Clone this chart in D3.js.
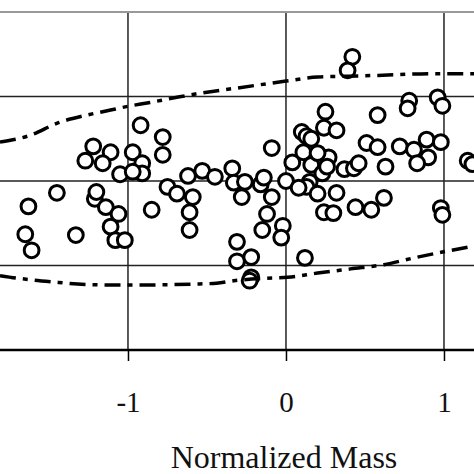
<!DOCTYPE html>
<html>
<head>
<meta charset="utf-8">
<script src="https://cdn.jsdelivr.net/npm/d3@7"></script>
<style>
  html, body { margin: 0; padding: 0; background: #fff; }
  svg { display: block; }
</style>
</head>
<body>
<svg id="chart" width="474" height="474"></svg>
<script>
const width = 474;
const height = 474;

// Scatter points: normalized mass (x) vs normalized value (y)
const pointsX = [
  -1.63, -1.45, -1.65, -1.61, -1.33, -1.21, -1.20, -1.14, -1.06, -1.11,
  -1.08, -1.02, -1.22, -1.11, -1.27, -1.16, -0.97, -0.91, -0.91, -1.05,
  -0.97, -0.92, -0.78, -0.78, -0.85, -0.75, -0.69, -0.62, -0.59, -0.61,
  -0.61, -0.53, -0.45, -0.34, -0.33, -0.28, -0.26, -0.16, -0.09, -0.14,
  0.00, -0.09, 0.04, 0.10, 0.13, 0.16, 0.11, 0.16, 0.15, 0.23,
  0.13, 0.20, 0.32, 0.25, 0.24, 0.32, 0.27, 0.26, 0.37, 0.43,
  0.46, 0.42, 0.39, 0.58, 0.78, 0.77, 0.96, 0.99, 0.51, 0.58,
  0.63, 0.72, 0.81, 0.89, 0.90, 0.83, 0.98, 1.15, 1.18, 0.44,
  0.54, 0.62, 0.24, 0.30, 0.98, 0.99, -0.12, -0.15, -0.02, -0.03,
  0.12, -0.31, -0.31, -0.22, -0.22, -0.23, 0.20, 0.08
];
const pointsY = [
  -0.30, -0.14, -0.63, -0.82, -0.64, -0.21, -0.13, -0.31, -0.39, -0.54,
  -0.70, -0.70, 0.41, 0.34, 0.24, 0.21, 0.34, 0.21, 0.09, 0.08,
  0.11, 0.66, 0.52, 0.31, -0.34, -0.07, -0.15, 0.06, -0.19, -0.37,
  -0.58, 0.12, 0.05, 0.15, -0.02, -0.19, -0.01, -0.04, -0.19, 0.04,
  0.00, 0.39, 0.22, 0.58, 0.53, 0.50, 0.34, 0.19, -0.01, 0.09,
  -0.07, -0.15, -0.14, 0.82, 0.63, 0.60, 0.28, 0.17, 0.14, 0.15,
  0.21, 1.47, 1.31, 0.78, 0.95, 0.86, 0.99, 0.89, 0.45, 0.40,
  0.17, 0.41, 0.37, 0.49, 0.28, 0.21, 0.46, 0.24, 0.20, -0.31,
  -0.34, -0.20, -0.37, -0.38, -0.32, -0.40, -0.39, -0.58, -0.53, -0.67,
  -0.91, -0.72, -0.95, -0.90, -1.14, -1.18, 0.33, -0.08
];

// Upper and lower envelope (dash-dot lines)
const upperX = [-1.81, -1.62, -1.44, -1.26, -1.11, -1.01, -0.86, -0.69, -0.54, -0.31, -0.01, 0.20, 0.39, 0.58, 0.94, 1.19];
const upperY = [0.46, 0.54, 0.69, 0.78, 0.84, 0.88, 0.93, 0.99, 1.04, 1.10, 1.18, 1.23, 1.24, 1.25, 1.27, 1.27];
const lowerX = [-1.81, -1.70, -1.61, -1.44, -1.32, -1.11, -0.86, -0.59, -0.44, -0.33, -0.12, 0.01, 0.20, 0.41, 0.62, 0.81, 0.99, 1.19];
const lowerY = [-1.12, -1.15, -1.17, -1.20, -1.22, -1.23, -1.23, -1.22, -1.21, -1.18, -1.15, -1.14, -1.09, -1.04, -0.99, -0.91, -0.84, -0.77];

const xTicks = [-1, 0, 1];
const yGrid = [-1, 0, 1];
const xTitle = "Normalized Mass";

const svg = d3.select("#chart");

const xScale = d3.scaleLinear().domain([-1.81, 1.19]).range([0, width]);
const yScale = d3.scaleLinear().domain([-2, 2]).range([350, 12]);

// Grid lines
svg.append("g")
  .selectAll("line")
  .data(yGrid)
  .enter()
  .append("line")
  .attr("x1", 0)
  .attr("x2", width)
  .attr("y1", (d) => yScale(d))
  .attr("y2", (d) => yScale(d))
  .attr("stroke", "#222")
  .attr("stroke-width", 1.5);

svg.append("g")
  .selectAll("line")
  .data(xTicks)
  .enter()
  .append("line")
  .attr("x1", (d) => xScale(d))
  .attr("x2", (d) => xScale(d))
  .attr("y1", yScale(2))
  .attr("y2", yScale(-2))
  .attr("stroke", "#222")
  .attr("stroke-width", 1.5);

// Top border
svg.append("line")
  .attr("x1", 0)
  .attr("x2", width)
  .attr("y1", yScale(2))
  .attr("y2", yScale(2))
  .attr("stroke", "#999")
  .attr("stroke-width", 2);

// Points
svg.append("g")
  .selectAll("circle")
  .data(pointsX.map((x, i) => [x, pointsY[i]]))
  .enter()
  .append("circle")
  .attr("cx", (d) => xScale(d[0]))
  .attr("cy", (d) => yScale(d[1]))
  .attr("r", 7.4)
  .attr("fill", "#fff")
  .attr("stroke", "#000")
  .attr("stroke-width", 3);

// Envelope lines
const line = d3.line()
  .x((d) => xScale(d[0]))
  .y((d) => yScale(d[1]))
  .curve(d3.curveMonotoneX);

[[upperX, upperY], [lowerX, lowerY]].forEach(([xs, ys]) => {
  svg.append("path")
    .datum(xs.map((x, i) => [x, ys[i]]))
    .attr("d", line)
    .attr("fill", "none")
    .attr("stroke", "#000")
    .attr("stroke-width", 3.5)
    .attr("stroke-dasharray", "16,7,5,7");
});

// X axis
const xAxis = d3.axisBottom(xScale)
  .tickValues(xTicks)
  .tickFormat(d3.format("d"))
  .tickSize(11)
  .tickPadding(30);

const gx = svg.append("g")
  .attr("transform", "translate(0," + yScale(-2) + ")")
  .call(xAxis);

gx.select(".domain").remove();
gx.selectAll(".tick line").attr("stroke", "#000").attr("stroke-width", 1.5);
gx.selectAll(".tick text")
  .attr("font-family", "'Liberation Serif', 'Times New Roman', serif")
  .attr("font-size", 29)
  .attr("fill", "#111")
  .text((d) => (d < 0 ? "-" + Math.abs(d) : d));

svg.append("line")
  .attr("x1", 0)
  .attr("x2", width)
  .attr("y1", yScale(-2))
  .attr("y2", yScale(-2))
  .attr("stroke", "#000")
  .attr("stroke-width", 2.5);

svg.append("text")
  .attr("x", 284)
  .attr("y", 468)
  .attr("text-anchor", "middle")
  .attr("font-family", "'Liberation Serif', 'Times New Roman', serif")
  .attr("font-size", 32)
  .attr("fill", "#111")
  .text(xTitle);
</script>
</body>
</html>
